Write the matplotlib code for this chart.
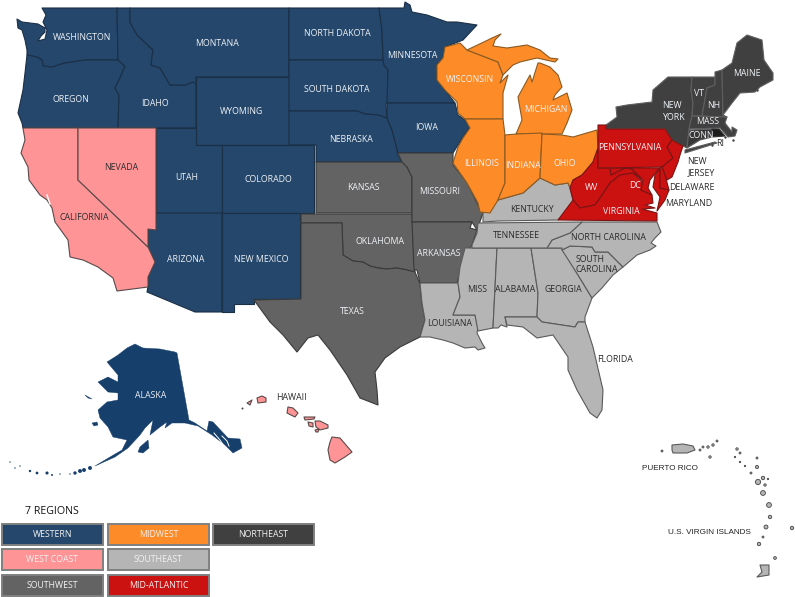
#!/usr/bin/env python3
"""Seven sales regions map, outlines read off the reference in pixel coordinates."""

import matplotlib
matplotlib.use('Agg')
import matplotlib.pyplot as plt
from matplotlib.patches import Polygon, Rectangle

plt.rcParams['font.family'] = ['Open Sans', 'DejaVu Sans']

# region colours: fill, edge
WESTERN = ('#24476b', '#1b2f46')
COAST = ('#ff9497', '#5a4a4a')
MIDWEST = ('#fd8c28', '#8a5a22')
NORTHEAST = ('#404040', '#5f5f5f')
SOUTHEAST = ('#b5b5b5', '#5a5a5a')
SOUTHWEST = ('#636363', '#3a3a3a')
MIDATL = ('#cc1111', '#7a1414')

# state outlines
WA = [(42,8),(117,8),(118,60),(85,60),(65,63),(52,67),(43,66),(42,60),(37,57),(27,55),(27,50),(25,40),(22,30),(18,28),(17,19),(22,22),(30,23),(38,24),(45,28),(45,32),(41,36),(38,41),(45,39),(47,30),(43,22),(46,15)]
OR = [(27,55),(37,57),(42,60),(43,66),(52,67),(65,63),(85,60),(118,60),(125,66),(120,78),(115,88),(119,95),(118,128),(23,128),(22,123),(18,113),(23,90),(25,73)]
CA = [(23,128),(78,128),(78,180),(148,247),(155,262),(148,277),(148,287),(117,291),(113,278),(98,267),(83,260),(70,257),(68,240),(55,222),(52,208),(47,200),(40,195),(29,180),(28,167),(21,153),(25,140)]
NV = [(78,128),(156,128),(156,230),(148,229),(148,247),(78,180)]
ID = [(117,8),(130,8),(130,22),(137,35),(153,50),(151,65),(160,68),(170,85),(185,85),(193,82),(196,84),(196,128),(118,128),(119,95),(115,88),(120,78),(125,66),(118,60)]
MT = [(130,8),(289,8),(289,77),(196,77),(196,84),(193,82),(185,85),(170,85),(160,68),(151,65),(153,50),(137,35),(130,22)]
WY = [(196,77),(289,77),(289,145),(196,145)]
UT = [(156,128),(196,128),(196,145),(222,145),(222,213),(156,213)]
CO = [(222,145),(314,145),(314,213),(222,213)]
AZ = [(156,213),(222,213),(222,312),(195,312),(147,292),(148,287),(148,277),(155,262),(148,247),(148,229),(156,230)]
NM = [(222,213),(300,213),(300,299),(254,299),(254,304),(234,304),(234,312),(222,312)]
ND = [(289,8),(379,8),(382,30),(383,60),(289,60)]
SD = [(289,60),(383,60),(384,65),(388,70),(388,100),(386,105),(387,118),(378,115),(365,114),(357,111),(289,111)]
NE = [(289,111),(357,111),(365,114),(378,115),(387,118),(392,130),(396,145),(398,155),(402,162),(316,162),(316,145),(289,145)]
MN = [(379,8),(404,8),(405,2),(410,5),(412,12),(427,15),(447,22),(457,22),(477,25),(463,40),(445,47),(443,58),(437,65),(437,80),(445,90),(455,103),(387,103),(388,70),(384,65),(383,60),(382,30)]
IA = [(387,103),(455,103),(458,115),(465,120),(470,127),(463,137),(458,145),(453,153),(398,153),(392,130),(387,118)]
KS = [(316,162),(402,162),(407,167),(412,177),(412,213),(316,213)]
OK = [(301,214),(412,214),(413,240),(415,272),(407,270),(397,268),(387,269),(378,268),(370,266),(363,262),(353,261),(343,255),(342,223),(301,223)]
TX = [(301,223),(342,223),(343,255),(353,261),(363,262),(370,266),(378,268),(387,269),(397,268),(407,270),(415,272),(420,284),(422,303),(425,320),(420,337),(400,347),(385,358),(375,372),(377,390),(378,405),(360,398),(347,375),(330,350),(318,335),(308,338),(297,352),(283,335),(270,322),(254,300),(301,299)]
MO = [(398,153),(453,153),(453,165),(467,182),(478,205),(483,213),(477,230),(472,222),(412,222),(412,177),(407,167),(402,162)]
AR = [(412,222),(472,222),(470,228),(477,230),(472,245),(463,262),(457,283),(420,283),(417,270),(414,270)]
LA = [(420,283),(458,283),(460,297),(453,315),(475,315),(478,328),(477,333),(482,343),(485,348),(478,350),(475,347),(465,348),(453,343),(443,340),(430,337),(420,337),(425,320),(422,303)]
MS = [(465,248),(497,248),(493,328),(478,331),(475,315),(453,315),(460,297),(458,283),(460,267)]
AL = [(497,248),(531,248),(538,293),(537,317),(505,317),(507,327),(501,325),(498,328),(493,328)]
GA = [(531,248),(562,248),(578,275),(592,298),(585,317),(585,322),(578,322),(575,327),(542,322),(537,317),(538,293)]
FL = [(505,317),(537,317),(542,322),(575,327),(578,322),(585,322),(593,347),(603,390),(602,410),(597,418),(590,413),(577,390),(568,370),(568,357),(553,335),(537,338),(523,327),(507,325)]
SC = [(562,250),(570,246),(592,247),(595,252),(608,252),(623,267),(613,275),(602,288),(592,298),(578,275)]
NC = [(582,222),(657,222),(661,232),(655,238),(651,243),(656,246),(650,250),(637,255),(623,267),(608,252),(595,252),(592,247),(570,246),(562,250),(562,248),(547,248),(552,240),(570,233)]
TN = [(478,223),(582,222),(570,233),(552,240),(547,248),(472,248),(472,245),(477,233)]
KY = [(483,222),(483,213),(498,200),(523,193),(540,178),(555,185),(568,183),(570,188),(573,200),(576,202),(558,220),(498,221)]
WI = [(445,47),(460,43),(467,50),(498,62),(503,75),(500,83),(508,75),(503,93),(503,119),(465,119),(458,113),(457,102),(445,90),(437,80),(437,65),(443,58)]
MI_UP = [(467,50),(488,40),(492,38),(501,34),(495,40),(493,46),(507,48),(527,45),(540,50),(550,58),(558,59),(555,62),(537,58),(520,62),(513,65),(503,75),(498,62)]
MI_LOW = [(540,63),(550,67),(558,75),(562,87),(555,95),(553,100),(567,93),(572,110),(567,123),(562,134),(542,134),(516,134),(522,120),(518,97),(530,75),(532,82),(538,63)]
IL = [(465,119),(503,119),(505,135),(505,183),(498,200),(490,213),(480,212),(478,203),(467,183),(453,163),(458,147),(463,138),(470,128)]
IN = [(505,135),(516,134),(542,133),(540,178),(523,193),(498,200),(505,183)]
OH = [(542,134),(562,135),(573,137),(597,130),(598,148),(593,162),(582,175),(573,180),(570,188),(568,183),(555,185),(540,178)]
PA = [(598,125),(606,125),(606,129),(665,129),(672,140),(667,147),(673,158),(662,167),(598,168)]
NJ = [(672,140),(683,146),(680,155),(678,162),(672,177),(667,180),(665,175),(662,167),(673,158),(667,147)]
NY = [(606,125),(617,117),(616,107),(627,105),(652,102),(653,90),(668,77),(692,77),(691,90),(693,103),(692,116),(689,130),(687,148),(683,146),(672,140),(665,129),(606,129)]
LONG_ISLAND = [(685,150),(715,142),(717,143),(685,153)]
VT = [(692,77),(715,77),(715,85),(707,88),(702,116),(692,116),(693,103),(691,90)]
NH = [(715,72),(722,70),(723,115),(727,117),(702,116),(707,88),(715,85)]
ME = [(722,70),(732,63),(737,43),(747,35),(762,40),(764,60),(773,73),(773,80),(760,87),(755,92),(740,93),(732,103),(723,115)]
MA = [(692,116),(727,117),(725,123),(732,132),(732,127),(737,130),(735,136),(728,137),(720,128),(689,129)]
CT = [(689,130),(712,129),(712,137),(700,140),(687,148)]
RI = [(712,129),(719,129),(725,136),(712,137)]
WV = [(598,148),(598,168),(610,168),(611,175),(625,168),(632,169),(643,180),(633,173),(620,175),(610,183),(600,198),(595,205),(580,208),(573,200),(570,188),(573,180),(582,175),(593,162)]
VA = [(558,220),(573,200),(580,208),(595,205),(600,198),(610,183),(620,175),(633,173),(643,182),(641,190),(652,195),(653,203),(645,205),(655,208),(642,209),(657,213),(657,221)]
MD = [(610,168),(660,168),(657,171),(650,180),(648,188),(652,195),(641,190),(643,180),(632,169),(625,168),(611,175)]
MD_EAST = [(660,168),(660,188),(669,190),(665,200),(657,211),(660,197),(653,187),(655,175)]
DE = [(660,168),(662,167),(665,175),(669,190),(660,188)]

AK = [(177,353),(189,420),(195,423),(207,431),(209,421),(213,422),(228,438),(240,439),(242,448),(233,453),(225,445),(212,435),(198,426),(185,423),(172,423),(165,428),(167,422),(160,427),(150,435),(153,420),(145,428),(140,435),(128,448),(115,457),(95,466),(110,457),(122,450),(127,440),(113,437),(108,427),(100,418),(98,410),(107,402),(118,400),(118,393),(108,392),(98,382),(108,377),(118,382),(118,375),(107,362),(118,355),(127,348),(135,344),(143,348),(160,349),(175,352)]
AK_ST_LAWRENCE = [(85,395),(92,399),(88,398)]
AK_NUNIVAK = [(92,423),(97,422),(98,425),(94,426)]
AK_KODIAK = [(138,452),(140,447),(148,440),(149,448),(143,453)]
AK_CHAIN_X = [10, 15, 20, 30, 37, 47, 52, 60, 70, 75, 80, 84, 90]
AK_CHAIN_Y = [462, 468, 466, 471, 473, 473, 475, 474, 474, 473, 471, 470, 468]
AK_CHAIN_SIZE = [1, 1, 1, 3, 4, 5, 2, 1, 1, 6, 8, 8, 8]

HI_BIG = [(332,437),(340,438),(352,452),(345,457),(335,463),(330,460),(328,450),(330,442)]
HI_MAUI = [(315,421),(320,421),(328,425),(328,428),(320,430),(316,427)]
HI_MOLOKAI = [(304,417),(315,417),(314,419),(305,420)]
HI_OAHU = [(288,407),(293,408),(298,413),(295,417),(287,413)]
HI_KAUAI = [(257,398),(262,396),(266,398),(266,402),(258,403)]
HI_NIIHAU = [(247,403),(252,400),(250,405)]
HI_LANAI = [(308,422),(313,423),(313,427),(309,426)]
HI_KAHOOLAWE = [(315,430),(319,429),(318,432),(316,432)]

PR = [(672,445),(683,444),(693,446),(695,450),(687,453),(673,453),(672,450)]
TRINIDAD = [(760,565),(769,565),(769,575),(757,577),(762,572)]
CARIB_X = [662,700,703,708,713,717,710,737,740,735,740,745,751,757,757,768,765,758,763,763,769,770,766,792,763,759,775]
CARIB_Y = [451,450,447,447,445,441,457,449,453,457,462,466,473,458,467,479,485,482,478,493,505,517,527,528,537,544,558]
CARIB_SIZE = [2,2,2,3,3,2,3,3,2,1,1,1,2,2,5,1,3,14,6,12,12,6,8,6,2,6,4]
NE_DOTS_X = [725,733,757,712]
NE_DOTS_Y = [137,140,90,145]

MAP_SHAPES = [
    (WESTERN, [WA, OR, ID, MT, WY, UT, CO, AZ, NM, ND, SD, NE, MN, IA]),
    (COAST, [CA, NV, HI_BIG, HI_MAUI, HI_MOLOKAI, HI_OAHU, HI_KAUAI, HI_NIIHAU, HI_LANAI, HI_KAHOOLAWE]),
    (SOUTHWEST, [OK, TX, KS, MO, AR]),
    (SOUTHEAST, [LA, MS, AL, GA, FL, SC, NC, TN, KY, PR, TRINIDAD]),
    (MIDWEST, [WI, MI_UP, MI_LOW, IL, IN, OH]),
    (NORTHEAST, [NY, LONG_ISLAND, VT, NH, ME, MA]),
    (MIDATL, [WV, VA, MD, MD_EAST, PA, NJ, DE]),
]

LIGHT = '#eef1f5'
DARK = '#2b2b2b'
LABELS = [
    ('WASHINGTON',82,38,LIGHT),('MONTANA',217,43,LIGHT),('NORTH DAKOTA',337,34,LIGHT),('MINNESOTA',412,55,LIGHT),
    ('OREGON',71,99,LIGHT),('IDAHO',155,103,LIGHT),('WYOMING',242,111,LIGHT),('SOUTH DAKOTA',337,89,LIGHT),
    ('NEBRASKA',351,140,LIGHT),('IOWA',427,128,LIGHT),('NEVADA',121,168,DARK),('UTAH',187,178,LIGHT),
    ('COLORADO',268,179,LIGHT),('KANSAS',363,187,LIGHT),('MISSOURI',440,191,LIGHT),('CALIFORNIA',84,217,DARK),
    ('ARIZONA',186,260,LIGHT),('NEW MEXICO',261,260,LIGHT),('OKLAHOMA',380,242,LIGHT),('ARKANSAS',439,253,LIGHT),
    ('TEXAS',352,311,LIGHT),('WISCONSIN',470,80,LIGHT),('MICHIGAN',546,109,LIGHT),('ILLINOIS',482,163,LIGHT),
    ('INDIANA',523,165,LIGHT),('OHIO',565,163,LIGHT),('KENTUCKY',532,210,DARK),('TENNESSEE',516,235,DARK),
    ('NORTH CAROLINA',608,238,DARK),('SOUTH',590,259,DARK),('CAROLINA',597,270,DARK),('LOUISIANA',450,324,DARK),
    ('MISS',477,289,DARK),('ALABAMA',515,289,DARK),('GEORGIA',563,289,DARK),('FLORIDA',615,360,DARK),
    ('PENNSYLVANIA',630,148,LIGHT),('NEW',672,106,LIGHT),('YORK',674,117,LIGHT),('VT',699,93,LIGHT),
    ('NH',714,105,LIGHT),('MAINE',747,73,LIGHT),('MASS',708,122,LIGHT),('CONN',701,135,LIGHT),('RI',720,143,DARK),
    ('NEW',697,162,DARK),('JERSEY',701,173,DARK),('DELAWARE',692,187,DARK),('MARYLAND',689,203,DARK),
    ('WV',592,187,LIGHT),('DC',635,186,LIGHT),('VIRGINIA',621,211,LIGHT),('ALASKA',151,395,LIGHT),('HAWAII',291,397,DARK),
]

LEGEND_NAMES = ['WESTERN','WEST COAST','SOUTHWEST','MIDWEST','SOUTHEAST','MID-ATLANTIC','NORTHEAST']
LEGEND_COLORS = ['#24476b','#ff9497','#636363','#fd8c28','#b5b5b5','#cc1111','#404040']
LEGEND_COLS = [0,0,0,1,1,1,2]
LEGEND_ROWS = [0,1,2,0,1,2,0]


def add_shape(ax, pts, face, edge, lw=0.8):
    ax.add_patch(Polygon(pts, closed=True, facecolor=face, edgecolor=edge, linewidth=lw, joinstyle='round'))


def main():
    fig = plt.figure(figsize=(7.95, 5.97), dpi=100)
    ax = fig.add_axes([0, 0, 1, 1])
    ax.set_xlim(0, 795)
    ax.set_ylim(597, 0)
    ax.axis('off')

    for (face, edge), shapes in MAP_SHAPES:
        for pts in shapes:
            add_shape(ax, pts, face, edge)

    # the two dark little states
    add_shape(ax, CT, '#383838', '#5f5f5f')
    add_shape(ax, RI, '#1c1c1c', '#333333')
    ax.scatter(NE_DOTS_X, NE_DOTS_Y, s=3, color='#404040', linewidths=0)

    # alaska is a bit brighter and has no outline
    for pts in [AK, AK_ST_LAWRENCE, AK_NUNIVAK, AK_KODIAK]:
        add_shape(ax, pts, '#163f6c', '#163f6c', lw=0.3)
    ax.scatter(AK_CHAIN_X, AK_CHAIN_Y, s=AK_CHAIN_SIZE, color='#163f6c', linewidths=0)
    # panhandle fjords
    ax.plot([214, 220, 224], [433, 440, 446], color='white', lw=0.7)
    ax.plot([222, 227, 229], [436, 441, 446], color='white', lw=0.7)

    # caribbean dots
    ax.scatter(CARIB_X, CARIB_Y, s=CARIB_SIZE, facecolor='#b5b5b5', edgecolor='#444444', linewidths=0.6)
    ax.scatter([242], [408], s=2, color='#444444', linewidths=0)

    # sf bay
    ax.plot([47, 50], [195, 204], color='white', lw=1)

    for name, x, y, col in LABELS:
        ax.text(x, y, name, color=col, fontsize=6.3, ha='center', va='center')
    ax.text(670, 468, 'PUERTO RICO', color='#222222', fontsize=5.9, ha='center', va='center', family='Liberation Sans')
    ax.text(709, 532, 'U.S. VIRGIN ISLANDS', color='#222222', fontsize=5.9, ha='center', va='center', family='Liberation Sans')

    # legend
    ax.text(52, 511, '7 REGIONS', color='#111111', fontsize=7.7, ha='center', va='center')
    box_x = [2, 108, 213]
    box_y = [524, 549, 575]
    for name, col, c, r in zip(LEGEND_NAMES, LEGEND_COLORS, LEGEND_COLS, LEGEND_ROWS):
        ax.add_patch(Rectangle((box_x[c], box_y[r]), 101, 21, facecolor=col, edgecolor='#808080', linewidth=1.4))
        ax.text(box_x[c] + 50.5, box_y[r] + 10.5, name, color='#f2f2f2', fontsize=6.3, ha='center', va='center')

    fig.savefig('out.png', dpi=100)


if __name__ == '__main__':
    main()
